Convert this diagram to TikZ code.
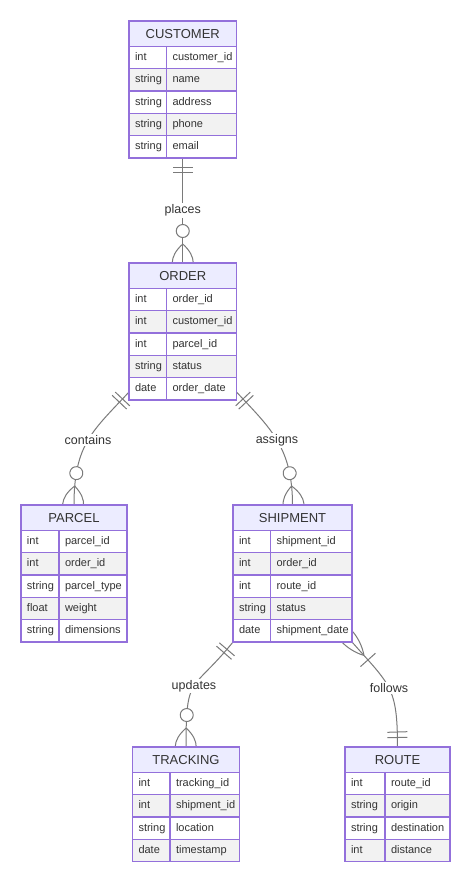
\documentclass[tikz,border=0pt]{standalone}
\usepackage{fontspec}
\setmainfont{Liberation Sans}
\usetikzlibrary{decorations.markings}
\pgfdeclarelayer{paper}
\pgfdeclarelayer{links}
\pgfsetlayers{paper,links,main}
\definecolor{erborder}{HTML}{9370DB}
\definecolor{erheadfill}{HTML}{ECECFF}
\definecolor{errow}{HTML}{F2F2F2}
\definecolor{ertext}{HTML}{333333}
\definecolor{erlink}{HTML}{7A7A7A}
\tikzset{
  erbox/.style={draw=erborder, line width=1.3pt, inner sep=0pt, outer sep=0pt, text=ertext},
  erheadstyle/.style={erbox, fill=erheadfill, minimum height=25.5pt, font=\fontsize{13}{15}\selectfont},
  ercell/.style={erbox, minimum height=22.3pt, inner xsep=6pt, inner ysep=0pt, align=left,
    font=\fontsize{11}{13}\selectfont, text height=8.2pt, text depth=2.4pt},
  erframe/.style={inner sep=0pt, outer sep=0pt, draw=none},
  erline/.style={draw=erlink, line width=1pt},
  erlabel/.style={fill=white, text=ertext, inner sep=1.5pt, font=\fontsize{12.5}{14}\selectfont},
  oneonly start/.style={postaction={decorate, decoration={markings,
      mark=at position 9.5pt with {\draw[erline] (0,-10) -- (0,10);},
      mark=at position 14pt with {\draw[erline] (0,-10) -- (0,10);}}}},
  oneonly end/.style={postaction={decorate, decoration={markings,
      mark=at position -9.5pt with {\draw[erline] (0,-10) -- (0,10);},
      mark=at position -15pt with {\draw[erline] (0,-10) -- (0,10);}}}},
  zeromany end/.style={postaction={decorate, decoration={markings,
      mark=at position -32pt with {\draw[erline, fill=white] (0,0) circle (6.5);},
      mark=at position -19pt with {
        \draw[erline] (0,0) .. controls (6.3,7) and (12.7,10.5) .. (19,10.5);
        \draw[erline] (0,0) .. controls (6.3,-7) and (12.7,-10.5) .. (19,-10.5);}}}},
  onemany start/.style={postaction={decorate, decoration={markings,
      mark=at position 18pt with {
        \draw[erline] (0,0) .. controls (-8,5) and (-18,7.5) .. (-25.5,7.5);
        \draw[erline] (0,0) .. controls (-8,-5) and (-18,-7.5) .. (-25.5,-7.5);},
      mark=at position 24pt with {\draw[erline] (0,-10) -- (0,10);}}}},
}
% #1 name, #2 left, #3 top, #4 width, #5 type column width, #6 row count, #7 title, #8 rows
\newcommand{\erentity}[8]{%
  \pgfmathsetmacro{\erH}{25.5+#6*22.3}%
  \node[erframe, minimum width=#4pt, minimum height=\erH pt, anchor=north west] (#1-box) at (#2,#3) {};
  \node[erheadstyle, minimum width=#4pt, anchor=north west] (#1) at (#2,#3) {#7};
  \foreach \ty/\fd [count=\i] in {#8} {%
    \pgfmathsetmacro{\ry}{#3+25.5+(\i-1)*22.3}%
    \pgfmathsetmacro{\tw}{#5-12}%
    \pgfmathsetmacro{\nw}{#4-#5-12}%
    \pgfmathsetmacro{\nx}{#2+#5}%
    \ifodd\i\def\rf{white}\else\def\rf{errow}\fi
    \node[ercell, fill=\rf, text width=\tw pt, anchor=north west] (#1-t\i) at (#2,\ry) {\ty};
    \node[ercell, fill=\rf, text width=\nw pt, anchor=north west] (#1-f\i) at (\nx,\ry) {\fd};
  }%
}
\begin{document}
\begin{tikzpicture}[x=1pt, y=-1pt]
\useasboundingbox (0,0) rectangle (474,887);
\begin{pgfonlayer}{paper}
\fill[white] (0,0) rectangle (474,887);
\end{pgfonlayer}

\erentity{customer}{129}{21}{107.5}{37.5}{5}{CUSTOMER}{int/customer\_id,string/name,string/address,string/phone,string/email}
\erentity{order}{129}{263}{107.5}{37.5}{5}{ORDER}{int/order\_id,int/customer\_id,int/parcel\_id,string/status,date/order\_date}
\erentity{parcel}{21}{505}{106}{38}{5}{PARCEL}{int/parcel\_id,int/order\_id,string/parcel\_type,float/weight,string/dimensions}
\erentity{shipment}{233}{505}{119}{37.5}{5}{SHIPMENT}{int/shipment\_id,int/order\_id,int/route\_id,string/status,date/shipment\_date}
\erentity{tracking}{132.5}{747}{107}{37.5}{4}{TRACKING}{int/tracking\_id,int/shipment\_id,string/location,date/timestamp}
\erentity{route}{345}{747}{105}{40}{4}{ROUTE}{int/route\_id,string/origin,string/destination,int/distance}

\begin{pgfonlayer}{links}
\draw[erline, oneonly start, zeromany end] (customer-box.south) -- (order-box.north)
  node[erlabel, pos=0.5] (lplaces) {places};
\draw[erline, oneonly start, zeromany end] ([yshift=8pt]order-box.south west)
  .. controls +(-36,38.7) and +(0,-61) .. (parcel-box.north)
  node[erlabel, pos=0.5] (lcontains) {contains};
\draw[erline, oneonly start, zeromany end] ([yshift=8pt]order-box.south east)
  .. controls +(33.3,35.8) and +(0,-58) .. (shipment-box.north)
  node[erlabel, pos=0.5] (lassigns) {assigns};
\draw[erline, oneonly start, zeromany end] (shipment-box.south west)
  .. controls +(-41.4,51.2) and +(0,-74) .. (tracking-box.north)
  node[erlabel, pos=0.5] (lupdates) {updates};
\draw[erline, onemany start, oneonly end] (shipment-box.south east)
  .. controls +(38,43.2) and +(0,-60.5) .. (route-box.north)
  node[erlabel, pos=0.5] (lfollows) {follows};
\end{pgfonlayer}
\end{tikzpicture}
\end{document}
